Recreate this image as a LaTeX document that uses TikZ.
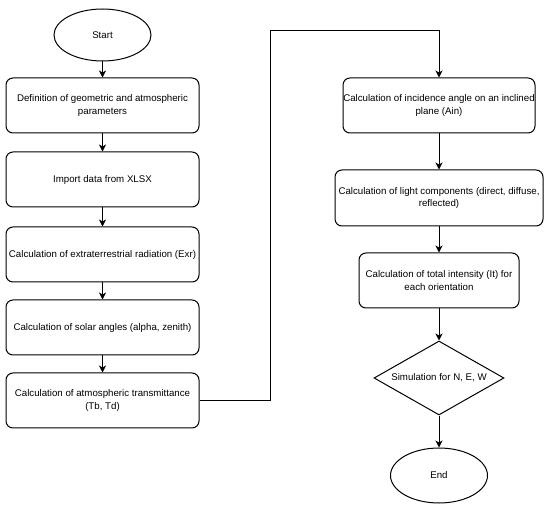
\documentclass[tikz,border=0pt]{standalone}
\usepackage{fontspec}
\setmainfont{Liberation Sans}
\usetikzlibrary{arrows.meta, shapes.geometric}

\begin{document}
\begin{tikzpicture}[x=1pt, y=-1pt,
	every node/.style={font=\fontsize{9.7}{12.4}\selectfont, align=center, inner sep=0pt},
	stepbox/.style={draw, line width=1pt, rounded corners=7pt, minimum height=55pt},
	terminal/.style={draw, line width=1pt, ellipse, minimum width=97pt, minimum height=52pt},
	decision/.style={draw, line width=1pt, diamond, aspect=1.76, minimum width=130pt, minimum height=74pt},
	arr/.style={line width=1pt, -{Stealth[length=7pt, width=7pt, inset=2pt]}}]
	\useasboundingbox (0,0) rectangle (550,508);
	
	% left column
	\node [terminal] (start) at (102.5,35) {Start};
	\foreach \name/\y/\txt in {
		def/105.5/{Definition of geometric and atmospheric\\parameters},
		imp/179.5/{Import data from XLSX},
		exr/254.5/{Calculation of extraterrestrial radiation (Exr)},
		ang/327.5/{Calculation of solar angles (alpha, zenith)},
		trans/400.5/{Calculation of atmospheric transmittance\\(Tb, Td)}}
		\node [stepbox, minimum width=193pt] (\name) at (102.5,\y) {\txt};
	
	% right column
	\node [stepbox, minimum width=192pt] (incid) at (439,105.5) {Calculation of incidence angle on an inclined\\plane (Ain)};
	\node [stepbox, minimum width=208pt, minimum height=56pt] (light) at (439,198) {Calculation of light components (direct, diffuse,\\reflected)};
	\node [stepbox, minimum width=160pt] (total) at (439,280.5) {Calculation of total intensity (It) for\\each orientation};
	\node [decision] (sim) at (439,378) {Simulation for N, E, W};
	\node [terminal, minimum height=55pt] (end) at (439,475.5) {End};
	
	% connectors
	\foreach \a/\b in {start/def, def/imp, imp/exr, exr/ang, ang/trans, incid/light, light/total, total/sim, sim/end}
		\draw [arr] (\a) -- (\b);
	\coordinate (turn) at (270,31);
	\draw [arr] (trans.east) -| (turn) -| (incid.north);
\end{tikzpicture}
\end{document}
